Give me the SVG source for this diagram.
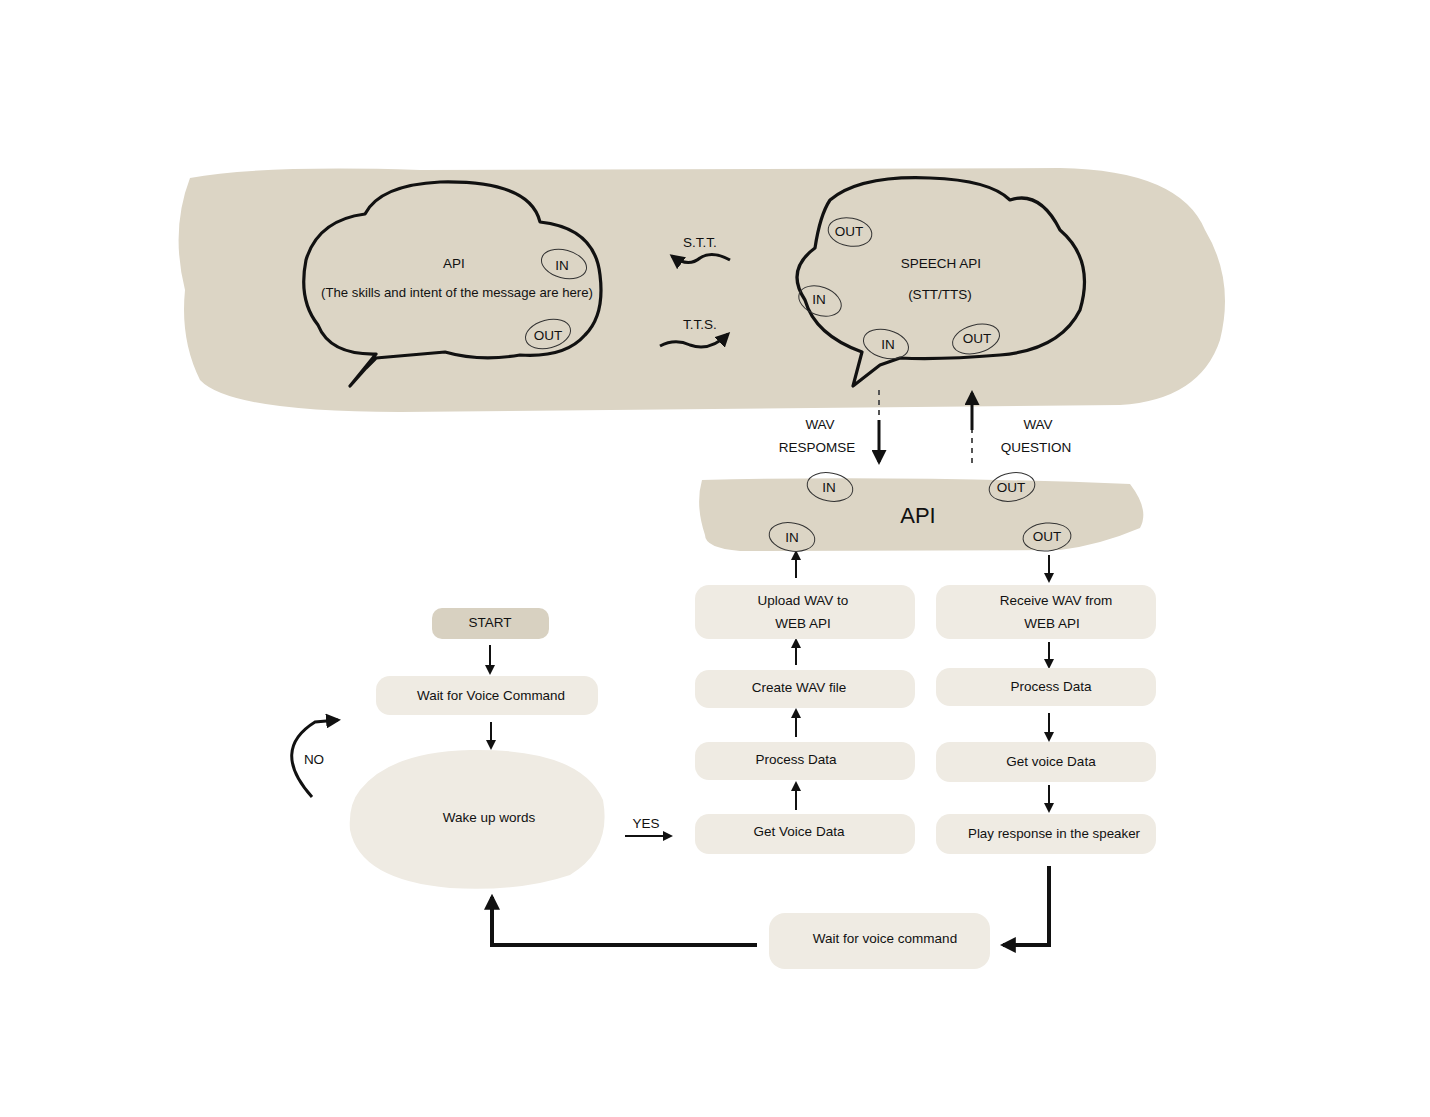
<svg xmlns="http://www.w3.org/2000/svg" width="1430" height="1117" viewBox="0 0 1430 1117">
<style>
text{font-family:"Liberation Sans Narrow","Liberation Sans",Arial,sans-serif;font-size:13.5px;fill:#111;text-anchor:middle;dominant-baseline:middle}
.band{fill:#dcd5c5}
.lt{fill:#efebe3}
.cloud{fill:none;stroke:#111;stroke-width:3.2;stroke-linejoin:round}
.port{fill:none;stroke:#333;stroke-width:1}
.ar{stroke:#111;stroke-width:2;fill:none;marker-end:url(#ah)}
.thick{stroke:#111;stroke-width:4;fill:none}
</style>
<defs>
<marker id="ah" viewBox="0 0 10 10" refX="8" refY="5" markerWidth="5" markerHeight="5" orient="auto-start-reverse"><path d="M0,0L10,5L0,10z" fill="#111"/></marker>
<marker id="ahb" viewBox="0 0 10 10" refX="8" refY="5" markerWidth="4" markerHeight="4" orient="auto-start-reverse"><path d="M0,0L10,5L0,10z" fill="#111"/></marker>
</defs>
<rect width="1430" height="1117" fill="#fff"/>
<g id="cloud-band">
<path class="band" d="M190,178 Q260,165 420,170 L1060,168 Q1180,170 1205,230 Q1235,280 1220,340 Q1200,400 1120,405 L400,412 Q230,412 200,380 Q180,340 185,290 Q170,230 190,178z"/>
</g>
<g id="node-api-cloud">
<path class="cloud" d="M350,386 L376,354 Q330,355 318,325 Q298,300 306,260 Q318,220 365,214 Q380,185 440,182 Q530,180 540,222 Q595,228 600,275 Q605,315 585,335 Q565,358 520,355 Q480,362 445,352 Q400,356 376,358 L366,368z"/>
<text x="454" y="264">API</text>
<text x="457" y="293" textLength="272" lengthAdjust="spacingAndGlyphs">(The skills and intent of the message are here)</text>
<ellipse class="port" cx="564" cy="264" rx="23" ry="14" transform="rotate(15 564 264)"/><text x="562" y="266">IN</text>
<ellipse class="port" cx="548" cy="334" rx="23" ry="14" transform="rotate(-15 548 334)"/><text x="548" y="336">OUT</text>
</g>
<g id="node-speech-cloud">
<path class="cloud" d="M853,386 L862,352 Q815,335 805,300 Q785,270 815,248 Q820,215 830,200 Q860,175 930,178 Q990,180 1010,200 Q1040,190 1060,230 Q1095,260 1080,310 Q1060,350 1000,355 Q940,360 900,358 L880,365z"/>
<text x="941" y="264">SPEECH API</text>
<text x="940" y="295">(STT/TTS)</text>
<ellipse class="port" cx="850" cy="232" rx="22" ry="14" transform="rotate(10 850 232)"/><text x="849" y="232">OUT</text>
<ellipse class="port" cx="820" cy="301" rx="22" ry="14" transform="rotate(20 820 301)"/><text x="819" y="300">IN</text>
<ellipse class="port" cx="886" cy="344" rx="23" ry="14" transform="rotate(15 886 344)"/><text x="888" y="345">IN</text>
<ellipse class="port" cx="976" cy="339" rx="24" ry="14" transform="rotate(-15 976 339)"/><text x="977" y="339">OUT</text>
</g>
<g id="connectors">
<path d="M730,260 Q712,250 700,258 Q688,268 672,256" stroke="#111" stroke-width="3" fill="none" marker-end="url(#ah)"/>
<text x="700" y="243">S.T.T.</text>
<path d="M660,346 Q675,338 690,345 Q710,352 728,334" stroke="#111" stroke-width="3" fill="none" marker-end="url(#ah)"/>
<text x="700" y="325">T.T.S.</text>
<path d="M879,390 L879,420" stroke="#555" stroke-width="2" stroke-dasharray="5,5"/>
<path d="M879,420 L879,462" stroke="#111" stroke-width="3" fill="none" marker-end="url(#ah)"/>
<path d="M972,463 L972,430" stroke="#555" stroke-width="2" stroke-dasharray="5,5"/>
<path d="M972,430 L972,393" stroke="#111" stroke-width="3" fill="none" marker-end="url(#ah)"/>
<text x="820" y="425">WAV</text><text x="817" y="448">RESPOMSE</text>
<text x="1038" y="425">WAV</text><text x="1036" y="448">QUESTION</text>
<path class="ar" d="M796,578 L796,552"/>
<path class="ar" d="M796,665 L796,640"/>
<path class="ar" d="M796,737 L796,710"/>
<path class="ar" d="M796,810 L796,783"/>
<path class="ar" d="M1049,555 L1049,581"/>
<path class="ar" d="M1049,642 L1049,667"/>
<path class="ar" d="M1049,713 L1049,740"/>
<path class="ar" d="M1049,785 L1049,811"/>
<path class="ar" d="M490,645 L490,673"/>
<path class="ar" d="M491,722 L491,748"/>
<path class="ar" d="M625,836 L671,836"/>
<text x="646" y="824">YES</text>
<path d="M312,797 Q270,750 315,722 L338,720" stroke="#111" stroke-width="3" fill="none" marker-end="url(#ah)"/>
<text x="314" y="760">NO</text>
<path class="thick" d="M1049,866 L1049,945 L1003,945" marker-end="url(#ahb)"/>
<path class="thick" d="M757,945 L492,945 L492,897" marker-end="url(#ahb)"/>
</g>
<g id="node-api">
<path class="band" d="M702,480 Q900,475 1130,484 Q1150,510 1140,528 Q1100,545 1060,550 L740,551 Q705,548 705,535 Q695,505 702,480z"/>
<text x="918" y="517" style="font-size:22px;font-family:'Liberation Sans',sans-serif">API</text>
<ellipse class="port" cx="830" cy="487" rx="23" ry="14" transform="rotate(10 830 487)"/><text x="829" y="488">IN</text>
<ellipse class="port" cx="1012" cy="487" rx="23" ry="14" transform="rotate(-10 1012 487)"/><text x="1011" y="488">OUT</text>
<ellipse class="port" cx="792" cy="537" rx="23" ry="14" transform="rotate(10 792 537)"/><text x="792" y="538">IN</text>
<ellipse class="port" cx="1047" cy="537" rx="24" ry="14" transform="rotate(-5 1047 537)"/><text x="1047" y="537">OUT</text>
</g>
<g id="node-upload"><rect class="lt" x="695" y="585" width="220" height="54" rx="14"/><text x="803" y="601">Upload WAV to</text><text x="803" y="624">WEB  API</text></g>
<g id="node-create"><rect class="lt" x="695" y="670" width="220" height="38" rx="14"/><text x="799" y="688">Create WAV file</text></g>
<g id="node-process-l"><rect class="lt" x="695" y="742" width="220" height="38" rx="14"/><text x="796" y="760">Process Data</text></g>
<g id="node-getvoice-l"><rect class="lt" x="695" y="814" width="220" height="40" rx="14"/><text x="799" y="832">Get Voice Data</text></g>
<g id="node-receive"><rect class="lt" x="936" y="585" width="220" height="54" rx="14"/><text x="1056" y="601">Receive  WAV  from</text><text x="1052" y="624">WEB  API</text></g>
<g id="node-process-r"><rect class="lt" x="936" y="668" width="220" height="38" rx="14"/><text x="1051" y="687">Process Data</text></g>
<g id="node-getvoice-r"><rect class="lt" x="936" y="742" width="220" height="40" rx="14"/><text x="1051" y="762">Get voice Data</text></g>
<g id="node-play"><rect class="lt" x="936" y="814" width="220" height="40" rx="14"/><text x="1054" y="834" textLength="172" lengthAdjust="spacingAndGlyphs">Play response in the speaker</text></g>
<g id="node-start"><rect x="432" y="608" width="117" height="31" rx="10" fill="#d8d1c1"/><text x="490" y="623">START</text></g>
<g id="node-wait"><rect class="lt" x="376" y="676" width="222" height="39" rx="14"/><text x="491" y="696" textLength="148" lengthAdjust="spacingAndGlyphs">Wait for Voice Command</text></g>
<g id="node-wake"><path class="lt" d="M360,790 Q390,752 470,750 Q580,748 603,800 Q612,850 570,875 Q520,892 450,888 Q360,880 350,830 Q348,805 360,790z"/><text x="489" y="818">Wake up words</text></g>
<g id="node-wait2"><rect class="lt" x="769" y="913" width="221" height="56" rx="16"/><text x="885" y="939">Wait for voice  command</text></g>
</svg>
